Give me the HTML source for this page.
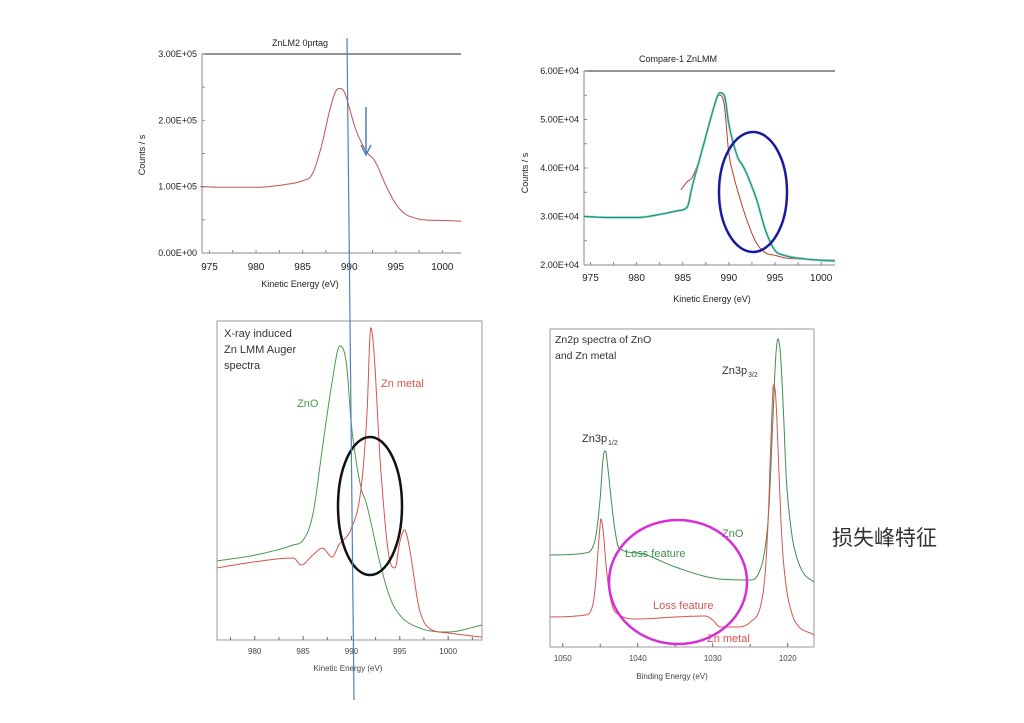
<!DOCTYPE html>
<html><head><meta charset="utf-8">
<style>
html,body{margin:0;padding:0;background:#fff;}
svg{display:block;font-family:"Liberation Sans","Noto Sans CJK SC",sans-serif;}
</style></head>
<body>
<svg id="s" width="1024" height="723" viewBox="0 0 1024 723" xmlns="http://www.w3.org/2000/svg">
<rect width="1024" height="723" fill="#fff"/>
<g id="p1"></g>
<g id="p2"></g>
<g id="p3"></g>
<g id="p4"></g>
<text x="832" y="545" font-size="21" fill="#333">损失峰特征</text>
</svg>
<script>
// Panel 1 data (Counts/s, x1e5)
const p1X=[974,977,980,983,985,986,987,988,988.6,989,989.5,990,990.5,991,992,992.6,993,994,995,996,997,998,1000,1002];
const p1Y=[1.0,0.99,0.99,1.03,1.09,1.18,1.6,2.2,2.45,2.48,2.42,2.2,1.95,1.76,1.5,1.42,1.32,1.0,0.74,0.59,0.53,0.5,0.49,0.48];
const p1YTicks=["0.00E+00","1.00E+05","2.00E+05","3.00E+05"];
const p1XTicks=[975,980,985,990,995,1000];
// Panel 2 data (x1e4)
const p2X=[974.3,977,980,983,984.5,985.5,986,987,988,988.7,989,989.5,990,990.5,991,991.5,992,993,994,995,996,998,1001.5];
const p2Teal=[3.0,2.98,2.98,3.06,3.12,3.2,3.6,4.3,5.0,5.45,5.55,5.5,4.9,4.5,4.2,4.05,3.85,3.35,2.7,2.3,2.2,2.13,2.08];
const p2RedX=[984.8,985.5,986,987,988,988.7,989,989.5,990,990.5,991,992,993,994,995,996,998,1001.5];
const p2Red=[3.55,3.72,3.8,4.3,5.0,5.45,5.5,5.3,4.3,3.85,3.5,2.9,2.45,2.25,2.2,2.15,2.12,2.1];
const p2YTicks=["2.00E+04","3.00E+04","4.00E+04","5.00E+04","6.00E+04"];
const p2XTicks=[975,980,985,990,995,1000];
// Panel 3 data (arb. intensity)
const p3GX=[976.1,980,984,985,986,987,988,988.8,989.5,990,991,991.5,992,993,994,995,997,1000,1003.5];
const p3G=[24.8,26.6,29.8,31.3,39.2,60.2,80.9,92.2,86.2,67.4,47.6,43.3,37,23.5,13.2,7.8,3.8,2.5,4.7];
const p3RX=[976.1,980,984,984.8,986,987,988,988.7,990,991,991.6,992,992.3,993,994,994.5,995,995.5,996,997,998,1000,1003.5];
const p3R=[22.6,24.5,25.7,23.5,26.6,28.8,26,29.8,35.1,47.6,70.5,97.8,91.5,54.9,24.5,22.6,30.7,34.5,28.8,10,3.8,2.2,0.9];
const p3XTicks=[980,985,990,995,1000];
// Panel 4 data (arb. intensity)
const p4GX=[1051.7,1047,1046,1045.5,1045,1044.6,1044.3,1044,1043.5,1043,1042.5,1040,1035,1030,1025,1024,1023,1022.5,1022,1021.6,1021.3,1021,1020.6,1020.2,1019.5,1019,1018,1016.5];
const p4G=[92,94,100,115,150,190,196,180,145,115,99,94,80,69,67,72,100,140,225,290,308,295,240,170,115,95,75,65];
const p4RX=[1051.7,1047,1046,1045.6,1045.2,1044.9,1044.6,1044.2,1043.8,1043,1040,1035,1031,1030,1029,1027,1025,1023.5,1023,1022.6,1022.2,1021.9,1021.6,1021.2,1020.8,1020.2,1019.5,1019,1016.5];
const p4R=[30,32,42,65,105,128,115,80,55,35,28,30,31,27,20,20,25,45,75,130,215,262,250,180,110,60,35,25,12];
const p4XTicks=[1050,1040,1030,1020];

const NS="http://www.w3.org/2000/svg";
function el(parent,tag,attrs,txt){const e=document.createElementNS(NS,tag);for(const k in attrs)e.setAttribute(k,attrs[k]);if(txt!==undefined)e.textContent=txt;parent.appendChild(e);return e;}
function lin(d0,d1,r0,r1){return v=>r0+(v-d0)*(r1-r0)/(d1-d0);}
// monotone cubic (Fritsch-Carlson) in data space, sampled
function pathD(xs,ys,sx,sy){
 const n=xs.length, d=[], m=new Array(n);
 for(let i=0;i<n-1;i++)d.push((ys[i+1]-ys[i])/(xs[i+1]-xs[i]));
 m[0]=d[0];m[n-1]=d[n-2];
 for(let i=1;i<n-1;i++){m[i]=(d[i-1]*d[i]<=0)?0:(d[i-1]+d[i])/2;}
 for(let i=0;i<n-1;i++){if(d[i]===0){m[i]=0;m[i+1]=0;continue;}const a=m[i]/d[i],b=m[i+1]/d[i],h=a*a+b*b;if(h>9){const t=3/Math.sqrt(h);m[i]=t*a*d[i];m[i+1]=t*b*d[i];}}
 let p="M"+sx(xs[0]).toFixed(1)+","+sy(ys[0]).toFixed(1);
 for(let i=0;i<n-1;i++){const h=xs[i+1]-xs[i];const N=8;
  for(let k=1;k<=N;k++){const t=k/N,t2=t*t,t3=t2*t;
   const y=(2*t3-3*t2+1)*ys[i]+(t3-2*t2+t)*h*m[i]+(-2*t3+3*t2)*ys[i+1]+(t3-t2)*h*m[i+1];
   p+=" L"+sx(xs[i]+t*h).toFixed(1)+","+sy(y).toFixed(1);}}
 return p;}

// ---- Panel 1
(function(){
const g=document.getElementById('p1');
const L=202,R=461,T=54,B=253;
const sx=lin(974.2,1002,L,R), sy=lin(0,3,B,T);
let e;
e=el(g,'line',{x1:L,y1:T,x2:R,y2:T,stroke:'#555','stroke-width':1.2});

e=el(g,'line',{x1:L,y1:T,x2:L,y2:B,stroke:'#888','stroke-width':1});

e=el(g,'line',{x1:L,y1:B,x2:R,y2:B,stroke:'#888','stroke-width':1});

p1YTicks.forEach((t,i)=>{const y=sy(i);
 e=el(g,'text',{x:L-5,y:y+3,'font-size':9,'text-anchor':'end',fill:'#222'},t);
 
 el(g,'line',{x1:L,y1:y,x2:L+3,y2:y,stroke:'#888'});
 if(i<3){el(g,'line',{x1:L,y1:sy(i+0.5),x2:L+3,y2:sy(i+0.5),stroke:'#888'});}
});
p1XTicks.forEach(t=>{const x=sx(t);
 e=el(g,'text',{x:x,y:B+17,'font-size':10,'text-anchor':'middle',fill:'#222'},t);
 
 el(g,'line',{x1:x,y1:B,x2:x,y2:B-3,stroke:'#888'});
 if(t+2.5<1002)el(g,'line',{x1:sx(t+2.5),y1:B,x2:sx(t+2.5),y2:B-3,stroke:'#888'});
});
e=el(g,'text',{x:300,y:46,'font-size':9,'text-anchor':'middle',fill:'#222'},'ZnLM2 0prtag');

e=el(g,'text',{x:300,y:287,'font-size':9,'text-anchor':'middle',fill:'#222'},'Kinetic Energy (eV)');

e=el(g,'text',{x:0,y:0,'font-size':9,'text-anchor':'middle',fill:'#222',transform:'translate(145,155) rotate(-90)'},'Counts / s');

e=el(g,'path',{d:pathD(p1X,p1Y,sx,sy),fill:'none',stroke:'#c0504d','stroke-width':1});

e=el(g,'path',{d:'M366,107 L366,153 M361,145 L366,155 L371,145',fill:'none',stroke:'#4f81bd','stroke-width':1.5});

})();

// ---- Panel 2
(function(){
const g=document.getElementById('p2');
const L=584,R=835,T=71,B=265;
const sx=lin(974.3,1001.5,L,R), sy=lin(2,6,B,T);
let e;
e=el(g,'line',{x1:L,y1:T,x2:R,y2:T,stroke:'#555','stroke-width':1.2});

e=el(g,'line',{x1:L,y1:T,x2:L,y2:B,stroke:'#888'});

e=el(g,'line',{x1:L,y1:B,x2:R,y2:B,stroke:'#888'});

p2YTicks.forEach((t,i)=>{const y=sy(i+2);
 e=el(g,'text',{x:L-5,y:y+3,'font-size':9,'text-anchor':'end',fill:'#222'},t);
 
 el(g,'line',{x1:L,y1:y,x2:L+3,y2:y,stroke:'#888'});
 if(i<4){el(g,'line',{x1:L,y1:sy(i+2.5),x2:L+3,y2:sy(i+2.5),stroke:'#888'});}
});
p2XTicks.forEach(t=>{const x=sx(t);
 e=el(g,'text',{x:x,y:B+16,'font-size':10,'text-anchor':'middle',fill:'#222'},t);
 
 el(g,'line',{x1:x,y1:B,x2:x,y2:B-3,stroke:'#888'});
 if(t+2.5<1001.5)el(g,'line',{x1:sx(t+2.5),y1:B,x2:sx(t+2.5),y2:B-3,stroke:'#888'});
});
e=el(g,'text',{x:678,y:62,'font-size':9,'text-anchor':'middle',fill:'#222'},'Compare-1 ZnLMM');

e=el(g,'text',{x:712,y:302,'font-size':9,'text-anchor':'middle',fill:'#222'},'Kinetic Energy (eV)');

e=el(g,'text',{x:0,y:0,'font-size':9,'text-anchor':'middle',fill:'#222',transform:'translate(528,173) rotate(-90)'},'Counts / s');

e=el(g,'path',{d:pathD(p2RedX,p2Red,sx,sy),fill:'none',stroke:'#c0392b','stroke-width':1});

e=el(g,'path',{d:pathD(p2X,p2Teal,sx,sy),fill:'none',stroke:'#5fd0b8','stroke-width':2.2});

e=el(g,'path',{d:pathD(p2X,p2Teal,sx,sy),fill:'none',stroke:'#2d6f68','stroke-width':0.7});

e=el(g,'ellipse',{cx:753,cy:192,rx:34,ry:60,fill:'none',stroke:'#1a1aa0','stroke-width':2.5});

})();

// ---- Panel 3
(function(){
const g=document.getElementById('p3');
const L=217,R=482,T=321,B=640;
const sx=lin(976.1,1003.5,L,R), sy=lin(0,100,B,T);
let e;
e=el(g,'rect',{x:L,y:T,width:R-L,height:B-T,fill:'none',stroke:'#999','stroke-width':1});

p3XTicks.forEach(t=>{const x=sx(t);
 e=el(g,'text',{x:x,y:B+14,'font-size':8,'text-anchor':'middle',fill:'#444'},t);
 
 el(g,'line',{x1:x,y1:B,x2:x,y2:B-4,stroke:'#666'});
 el(g,'line',{x1:sx(t-2.5),y1:B,x2:sx(t-2.5),y2:B-3,stroke:'#666'});
});
el(g,'line',{x1:sx(1002.5),y1:B,x2:sx(1002.5),y2:B-3,stroke:'#666'});
e=el(g,'text',{x:348,y:671,'font-size':8,'text-anchor':'middle',fill:'#444'},'Kinetic Energy (eV)');

['X-ray induced','Zn LMM Auger','spectra'].forEach((t,i)=>{
 e=el(g,'text',{x:224,y:337+i*16,'font-size':11,fill:'#333'},t);
 
});
e=el(g,'path',{d:pathD(p3GX,p3G,sx,sy),fill:'none',stroke:'#4a9a4a','stroke-width':1});

e=el(g,'path',{d:pathD(p3RX,p3R,sx,sy),fill:'none',stroke:'#d9534f','stroke-width':1});

e=el(g,'text',{x:297,y:407,'font-size':11,fill:'#4a9a4a'},'ZnO');

e=el(g,'text',{x:381,y:387,'font-size':11,fill:'#d9534f'},'Zn metal');

e=el(g,'ellipse',{cx:370,cy:506,rx:32,ry:69,fill:'none',stroke:'#111','stroke-width':2.5});

})();

// ---- Panel 4
(function(){
const g=document.getElementById('p4');
const L=550,R=814,T=329,B=647;
const sx=lin(1051.7,1016.5,L,R), sy=lin(0,318,B,T);
let e;
e=el(g,'rect',{x:L,y:T,width:R-L,height:B-T,fill:'none',stroke:'#999','stroke-width':1});

p4XTicks.forEach(t=>{const x=sx(t);
 e=el(g,'text',{x:x,y:B+14,'font-size':8,'text-anchor':'middle',fill:'#444'},t);
 
 el(g,'line',{x1:x,y1:B,x2:x,y2:B-4,stroke:'#666'});
 if(t-5>1016.5)el(g,'line',{x1:sx(t-5),y1:B,x2:sx(t-5),y2:B-3,stroke:'#666'});
});
e=el(g,'text',{x:672,y:679,'font-size':8,'text-anchor':'middle',fill:'#444'},'Binding Energy (eV)');

['Zn2p spectra of ZnO','and Zn metal'].forEach((t,i)=>{
 e=el(g,'text',{x:555,y:343+i*16,'font-size':10.5,fill:'#333'},t);
 
});
e=el(g,'path',{d:pathD(p4GX,p4G,sx,sy),fill:'none',stroke:'#3f8f4f','stroke-width':1});

e=el(g,'path',{d:pathD(p4RX,p4R,sx,sy),fill:'none',stroke:'#d9534f','stroke-width':1});

e=el(g,'text',{x:722,y:374,'font-size':11,fill:'#333'},'Zn3p');

el(g,'text',{x:748,y:377,'font-size':7,fill:'#333'},'3/2');
e=el(g,'text',{x:582,y:442,'font-size':11,fill:'#333'},'Zn3p');

el(g,'text',{x:608,y:445,'font-size':7,fill:'#333'},'1/2');
e=el(g,'text',{x:722,y:537,'font-size':11,fill:'#3f8f4f'},'ZnO');

e=el(g,'text',{x:625,y:557,'font-size':11,fill:'#3f8f4f'},'Loss feature');

e=el(g,'text',{x:653,y:609,'font-size':11,fill:'#d9534f'},'Loss feature');

e=el(g,'text',{x:707,y:642,'font-size':11,fill:'#d9534f'},'Zn metal');

e=el(g,'ellipse',{cx:678,cy:582,rx:69,ry:62,fill:'none',stroke:'#d62fd6','stroke-width':2.5});

})();

// Vertical reference line across panels
const s=document.getElementById('s');
const vl=el(s,'line',{x1:347,y1:38,x2:354,y2:700,stroke:'#4f81bd','stroke-width':1.2});


</script>
</body></html>
